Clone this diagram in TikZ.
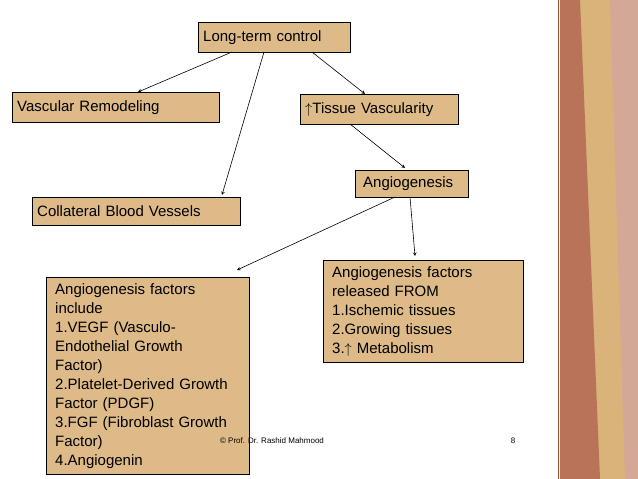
\documentclass[tikz,border=0pt]{standalone}
\usepackage{fontspec}
\setmainfont{Liberation Sans}
\begin{document}
\begin{tikzpicture}[x=1pt,y=-1pt,
  box/.style={draw=black,fill=boxtan,anchor=north west,inner xsep=5pt,inner ysep=4pt,font=\fontsize{15}{19}\selectfont,align=left},
  one/.style={box,minimum height=30pt,text width=#1},
  arr/.style={-stealth,semithick}]
\definecolor{boxtan}{HTML}{DDBA87}
\definecolor{band}{HTML}{D9B37A}
\definecolor{rust}{HTML}{A8502E}
\useasboundingbox (0,0) rectangle (638,479);
\fill[white] (0,0) rectangle (638,479);
% decorative border
\fill[band] (560,0) rectangle (638,479);
\fill[rust!80] (560,0) -- (580,0) -- (600,479) -- (560,479) -- cycle;
\fill[rust!50] (610,0) -- (638,0) -- (638,479) -- (625,479) -- cycle;
\draw[rust,line width=1pt] (558,0) -- (558,479);
% boxes
\node[one=142pt] (ltc) at (198,22) {Long-term control};
\node[one=197pt] (vr) at (12,92) {Vascular Remodeling};
\node[one=148pt] (tv) at (300,94) {$\uparrow$Tissue Vascularity};
\node[one=97pt,minimum height=27pt,inner xsep=8pt] (ag) at (355,170) {Angiogenesis};
\node[one=198pt,minimum height=28pt] (cbv) at (32,197) {Collateral Blood Vessels};
\node[box,minimum height=193pt,text width=185pt,inner xsep=9pt,inner ysep=6pt] (lf) at (46,277)
 {Angiogenesis factors\\include\\1.VEGF (Vasculo-\\Endothelial Growth\\Factor)\\2.Platelet-Derived Growth\\Factor (PDGF)\\3.FGF (Fibroblast Growth\\Factor)\\4.Angiogenin};
\node[box,minimum height=102pt,text width=182pt,inner xsep=9pt,inner ysep=3pt] (rf) at (323,260)
 {Angiogenesis factors\\released FROM\\1.Ischemic tissues\\2.Growing tissues\\3.$\uparrow$ Metabolism};
% footer
\node[font=\fontsize{8}{10}\selectfont] (ft) at (272,441) {\textcopyright{} Prof. Dr. Rashid Mahmood};
\node[font=\fontsize{8}{10}\selectfont] (pg) at (513,441) {8};
% arrows
\coordinate (a1) at (232,52); \coordinate (a2) at (264,52); \coordinate (a3) at (312,52);
\draw[arr] (a1) -- (138,92);
\draw[arr] (a2) -- (222,195);
\draw[arr] (a3) -- (365,94);
\draw[arr] (350,124) -- (405,168);
\draw[arr] (395,197) -- (237,270);
\draw[arr] (410,197) -- (415,256);
\end{tikzpicture}
\end{document}
